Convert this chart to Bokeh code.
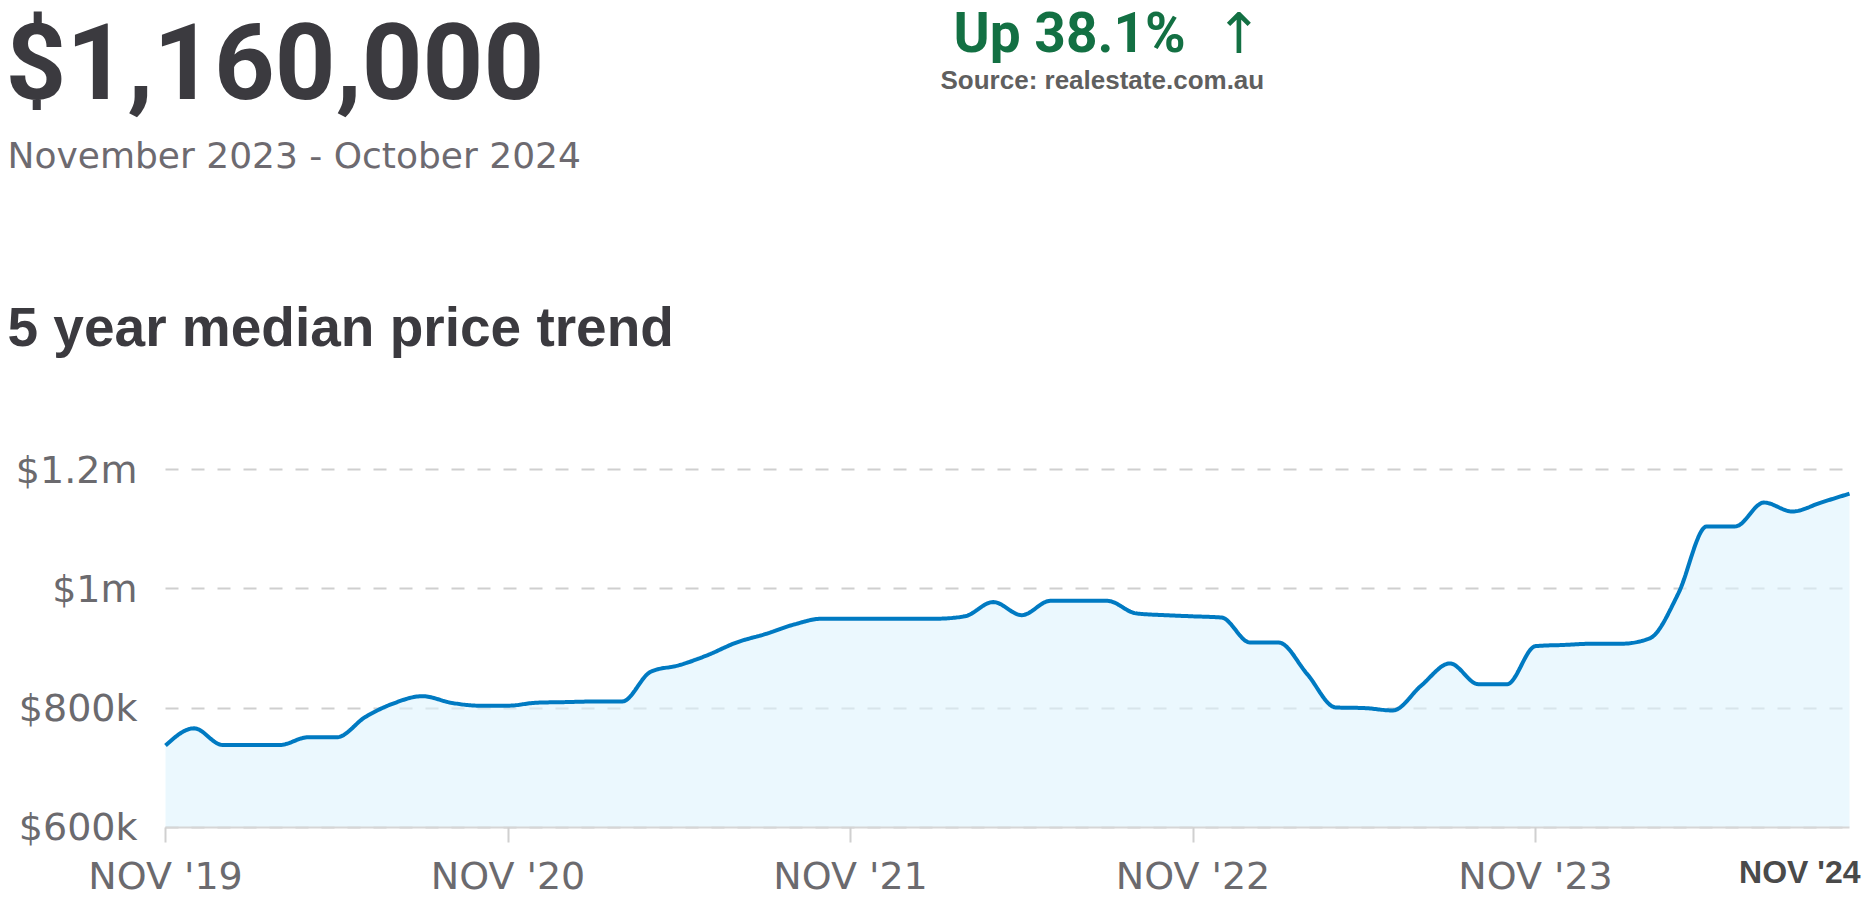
import numpy as np
from bokeh.plotting import figure
from bokeh.models import Range1d, FixedTicker, Label, ColumnDataSource
from bokeh.embed import file_html
from bokeh.resources import INLINE

# ---------------- data ----------------
months = [f"{y}-{m:02d}" for y, m in
          [(2019, 11), (2019, 12)] + [(yy, mm) for yy in (2020, 2021, 2022, 2023) for mm in range(1, 13)]
          + [(2024, mm) for mm in range(1, 11)]]
prices = [737000, 766000, 738000, 738000, 738000, 751000, 751000, 785000, 808000, 820000,
          809000, 804000, 804000, 809000, 810000, 811000, 811000, 861000, 872000, 889000,
          910000, 924000, 940000, 950000, 950000, 950000, 950000, 950000, 954000, 978000,
          956000, 980000, 980000, 980000, 959000, 956000, 954000, 952000, 910000, 910000,
          857000, 801000, 800000, 796000, 838000, 875000, 840000, 840000, 904000, 906000,
          908000, 908000, 917000, 992000, 1105000, 1105000, 1145000, 1130000, 1145000, 1160000]
x_tick_labels = ["NOV '19", "NOV '20", "NOV '21", "NOV '22", "NOV '23"]
end_label = "NOV '24"
y_ticks = [600000, 800000, 1000000, 1200000]
y_tick_labels = ["$600k", "$800k", "$1m", "$1.2m"]
headline = "$1,160,000"
period = "November 2023 - October 2024"
change = "Up 38.1%"
source_txt = "Source: realestate.com.au"
title_txt = "5 year median price trend"

# ------------- monotone (d3 curveMonotoneX style) smoothing -------------
def monotone(xs, ys, n=20):
    xs = np.asarray(xs, float)
    ys = np.asarray(ys, float)
    h = np.diff(xs)
    s = np.diff(ys) / h
    m = np.zeros(len(xs))
    sg = lambda v: -1.0 if v < 0 else 1.0
    for i in range(1, len(xs) - 1):
        h0, h1, s0, s1 = h[i - 1], h[i], s[i - 1], s[i]
        pp = (s0 * h1 + s1 * h0) / (h0 + h1)
        m[i] = (sg(s0) + sg(s1)) * min(abs(s0), abs(s1), 0.5 * abs(pp))
    m[0] = (3 * s[0] - m[1]) / 2
    m[-1] = (3 * s[-1] - m[-2]) / 2
    ox, oy = [], []
    for i in range(len(xs) - 1):
        t = np.linspace(0, 1, n, endpoint=(i == len(xs) - 2))
        h00 = 2 * t**3 - 3 * t**2 + 1
        h10 = t**3 - 2 * t**2 + t
        h01 = -2 * t**3 + 3 * t**2
        h11 = t**3 - t**2
        ox.extend(xs[i] + t * h[i])
        oy.extend(h00 * ys[i] + h10 * h[i] * m[i] + h01 * ys[i + 1] + h11 * h[i] * m[i + 1])
    return np.array(ox), np.array(oy)

idx = np.arange(len(prices))
sx, sy = monotone(idx, prices)
src = ColumnDataSource(dict(x=sx, y=sy, base=np.full(len(sx), y_ticks[0])))
nov_idx = [i for i, m in enumerate(months) if m.endswith("-11")]
last = len(prices) - 1

# ---------------- layout constants (page pixels) ----------------
W, H = 1863, 898
PLOT_LEFT, PLOT_RIGHT = 165, 1849
GRID_TOP, BASELINE = 469.3, 826.7

per_px = (y_ticks[-1] - y_ticks[0]) / (BASELINE - GRID_TOP)
y_end = y_ticks[-1] + GRID_TOP * per_px
y_start = y_ticks[0] - (H - BASELINE) * per_px
px_per_x = (PLOT_RIGHT - PLOT_LEFT) / last
x_start = -PLOT_LEFT / px_per_x
x_end = last + (W - PLOT_RIGHT) / px_per_x

p = figure(width=W, height=H, output_backend="svg", toolbar_location=None,
           x_range=Range1d(x_start, x_end), y_range=Range1d(y_start, y_end),
           min_border=0, min_border_left=0, min_border_right=0, min_border_top=0,
           min_border_bottom=0)
p.outline_line_color = None
p.background_fill_color = "white"
p.border_fill_color = "white"

p.xgrid.visible = False
p.ygrid.ticker = FixedTicker(ticks=y_ticks)
p.ygrid.bounds = (y_ticks[0], y_ticks[-1])
p.ygrid.cross_bounds = (0, last)
p.ygrid.grid_line_color = "#cfcfcf"
p.ygrid.grid_line_width = 2
p.ygrid.grid_line_dash = "13 13"

p.varea(x="x", y1="base", y2="y", source=src, fill_color="#def3fd", fill_alpha=0.6)
p.line(x="x", y="y", source=src, line_color="#007ac2", line_width=4)

tick_font = "DejaVu Sans"
tick_color = "#6b6a6e"

p.yaxis.fixed_location = 0
p.yaxis.bounds = (y_ticks[0], y_ticks[-1])
p.yaxis.ticker = FixedTicker(ticks=y_ticks)
p.yaxis.major_label_overrides = {v: t for v, t in zip(y_ticks, y_tick_labels)}
p.yaxis.axis_line_color = None
p.yaxis.major_tick_line_color = None
p.yaxis.minor_tick_line_color = None
p.yaxis.major_tick_out = 0
p.yaxis.major_tick_in = 0
p.yaxis.major_label_standoff = 28
p.yaxis.major_label_text_font = tick_font
p.yaxis.major_label_text_font_size = "38px"
p.yaxis.major_label_text_color = tick_color

p.xaxis.fixed_location = y_ticks[0]
p.xaxis.bounds = (0, last)
p.xaxis.ticker = FixedTicker(ticks=nov_idx)
p.xaxis.major_label_overrides = {i: t for i, t in zip(nov_idx, x_tick_labels)}
p.xaxis.axis_line_color = "#d6d6d6"
p.xaxis.axis_line_width = 2
p.xaxis.major_tick_line_color = "#d0d0d0"
p.xaxis.major_tick_line_width = 2
p.xaxis.major_tick_out = 15
p.xaxis.major_tick_in = 0
p.xaxis.minor_tick_line_color = None
p.xaxis.major_label_standoff = 12
p.xaxis.major_label_text_font = tick_font
p.xaxis.major_label_text_font_size = "38px"
p.xaxis.major_label_text_color = tick_color

def add_text(px, baseline, text, font, size, color, style="normal", align="left"):
    # compensate the renderer's baseline placement (~0.34 em lower than requested)
    y = H - (baseline - 0.34 * size)
    p.add_layout(Label(x=px, y=y, x_units="screen", y_units="screen", text=text,
                       text_font=font, text_font_size=f"{size}px", text_color=color,
                       text_font_style=style, text_baseline="alphabetic", text_align=align))

add_text(5, 99, headline, "Roboto", 106, "#3b3a3f", "bold")
add_text(7, 167, period, "DejaVu Sans", 36, "#6d6a70")
add_text(7, 345, title_txt, "Liberation Sans", 55, "#3b3a3f", "bold")
add_text(953, 51.5, change, "Roboto", 55, "#137043", "bold")
add_text(1215, 52.5, "\u2191", "DejaVu Sans", 56, "#137043")
add_text(940, 88, source_txt, "Liberation Sans", 26, "#5f5f5f", "bold")
add_text(W - 3, 882, end_label, "Liberation Sans", 32, "#4a4a4a", "bold", "right")

open("out.html", "w").write(file_html(p, INLINE))
